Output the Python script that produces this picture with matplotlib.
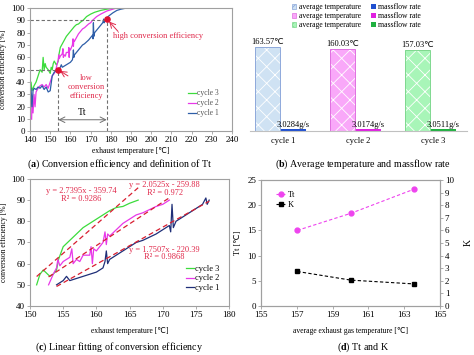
import matplotlib
matplotlib.use('Agg')
import matplotlib.pyplot as plt
import numpy as np
from matplotlib.patches import Patch
from matplotlib.lines import Line2D

plt.rcParams['font.family'] = ['Liberation Serif', 'DejaVu Sans']
plt.rcParams['hatch.linewidth'] = 0.6
plt.rcParams['mathtext.fontset'] = 'custom'
plt.rcParams['mathtext.rm'] = 'Liberation Serif'
plt.rcParams['mathtext.bf'] = 'Liberation Serif:bold'

# ---- conversion efficiency curves ----
x_c1 = [140, 140.5, 141, 141.5, 142, 143, 144, 145, 146, 147, 148, 149, 150, 151, 152, 153,
        154, 155, 155.5, 156, 157, 158, 159, 160, 161, 161.3, 161.5, 161.7, 162, 163, 164, 165,
        166, 167, 168, 169, 170, 171, 171.2, 171.4, 171.6, 172, 173, 174, 175, 176, 176.5,
        176.7, 177, 179, 181, 183, 185, 188, 240]
y_c1 = [5, 35, 20, 33, 35, 34, 36, 35, 37, 34, 36, 32, 33, 45, 48, 49,
        50, 52, 54, 52, 53, 54, 55, 56, 58, 61, 66, 60, 62, 64, 66, 68,
        70, 71, 72.5, 74, 76, 78, 75, 88, 77, 80, 82, 84, 86, 88, 91,
        88, 90, 93.5, 96, 98, 99, 100, 100]

x_c2 = [140.8, 141, 141.5, 142, 142.5, 143, 144, 145, 146, 147, 148, 149, 150, 151, 152,
        152.8, 153.5, 154, 154.2, 154.5, 155, 156, 156.3, 156.5, 157, 157.5, 158, 159, 159.2,
        159.4, 159.6, 160, 161, 161.3, 161.5, 161.7, 162, 163, 164, 165, 166, 167, 168, 169,
        170, 171, 173, 175, 178, 180, 183, 240]
y_c2 = [10, 25, 15, 30, 20, 32, 35, 37, 38, 36, 38, 35, 40, 45, 47,
        50, 55, 58, 62, 59, 61, 63, 67, 60, 62, 61, 64, 64, 68,
        60, 67, 66, 70, 75, 69, 74, 73, 76, 79, 81, 83, 84, 85.5, 87,
        88, 90, 93, 95, 97.5, 98.5, 100, 100]

x_c3 = [140, 140.5, 141, 142, 143, 144, 145, 146, 146.5, 147, 147.5, 148, 149, 150, 150.5,
        151, 151.5, 152, 153, 153.5, 154, 154.3, 155, 156, 157, 158, 159, 160, 161, 162, 163,
        164, 165, 166.3, 168, 170, 172, 175, 178, 181, 185, 240]
y_c3 = [30, 40, 33, 37, 40, 45, 50, 48, 60, 50, 55, 52, 50, 47, 52,
        50, 55, 57, 54, 55, 57, 62, 68, 71, 74, 77, 79, 81, 83, 85, 86.5,
        87, 88.5, 90, 93, 95, 96.5, 98, 99, 99.7, 100, 100]

# fitting range used in (c)
fit_range = {1: (154, 177), 2: (152.8, 171), 3: (151, 166.3)}
fit_k = {1: 1.7507, 2: 2.0525, 3: 2.7395}
fit_b = {1: -220.39, 2: -259.88, 3: -359.74}
fit_r2 = {1: '0.9868', 2: '0.972', 3: '0.9286'}

# ---- (b) bars ----
cycles = ['cycle 1', 'cycle 2', 'cycle 3']
avg_temp = [163.57, 160.03, 157.03]
massflow = [3.0284, 3.0174, 3.0511]

# ---- (d) ----
t_avg = [157.03, 160.03, 163.57]
tt = [15.0, 18.4, 23.2]
k_vals = [2.7395, 2.0525, 1.7507]

red = '#E0284A'
gray_spine = '#A0A0A0'

fig = plt.figure(figsize=(4.74, 3.55), dpi=100)


def style(ax):
    for s in ax.spines.values():
        s.set_color(gray_spine)
        s.set_linewidth(0.8)
    ax.tick_params(labelsize=6.5, length=2, width=0.6, color=gray_spine, pad=1.5)


# (a)
ax1 = fig.add_axes([0.0633, 0.6296, 0.426, 0.348])
ax1.plot(x_c3, y_c3, color='#3CDC3C', lw=0.9, label='cycle 3')
ax1.plot(x_c2, y_c2, color='#E838E8', lw=0.9, label='cycle 2')
ax1.plot(x_c1, y_c1, color='#2E5EA8', lw=0.9, label='cycle 1')
dash = dict(color='#707070', lw=0.8, ls=(0, (3, 2)))
ax1.plot([140, 154], [50, 50], **dash)
ax1.plot([154, 154], [0, 50], **dash)
ax1.plot([140, 178], [90, 90], **dash)
ax1.plot([178, 178], [0, 90], **dash)
ax1.scatter([154, 178], [50, 91], color='#E01030', s=14, zorder=5)
ax1.annotate('', xy=(178, 9.5), xytext=(154, 9.5),
             arrowprops=dict(arrowstyle='<->', color='#707070', lw=0.7, shrinkA=0, shrinkB=0))
ax1.text(166, 11.5, 'Tt', fontsize=7, ha='center', va='bottom')
ax1.annotate('', xy=(179.2, 89), xytext=(183.6, 81),
             arrowprops=dict(arrowstyle='->', color=red, lw=0.7, shrinkA=0, shrinkB=0))
ax1.text(181, 77.6, 'high conversion efficiency', color=red, fontsize=6, va='center')
ax1.annotate('', xy=(154.9, 49), xytext=(158.8, 45),
             arrowprops=dict(arrowstyle='->', color=red, lw=0.7, shrinkA=0, shrinkB=0))
ax1.text(167.8, 36, 'low\nconversion\nefficiency', color=red, fontsize=6,
         ha='center', va='center', linespacing=1.1)
ax1.set_xlim(140, 240)
ax1.set_ylim(0, 100)
ax1.set_xticks(np.arange(140, 241, 10))
ax1.set_yticks(np.arange(0, 101, 10))
ax1.set_xlabel('exhaust temperature [℃]', fontsize=5.5, labelpad=2)
ax1.set_ylabel('conversion efficiency [%]', fontsize=5.5)
ax1.yaxis.set_label_coords(-0.112, 0.5)
style(ax1)
ax1.legend(loc='lower right', bbox_to_anchor=(0.97, 0.06), fontsize=5.5, frameon=False,
           handlelength=1.0, handletextpad=0.2, labelspacing=0.25, labelcolor='#555555')

# (b)
ax2 = fig.add_axes([0.527, 0.631, 0.458, 0.290])
face = ['#CFE2F3', '#F9A8F9', '#A8F5B8']
edge = ['#8EA9DB', '#E070E0', '#7FD88F']
mass_c = ['#2050D0', '#E020E0', '#20B040']
xpos = np.arange(len(cycles))
w = 0.333
for i in range(len(cycles)):
    ax2.bar(xpos[i] - 0.17, avg_temp[i], w, color=face[i], hatch='xx', edgecolor='white', lw=0)
    ax2.bar(xpos[i] - 0.17, avg_temp[i], w, fill=False, edgecolor=edge[i], lw=0.7)
    ax2.bar(xpos[i] + 0.175, massflow[i], w, color=mass_c[i], lw=0)
    ax2.text(xpos[i] - 0.17, avg_temp[i] + 2, '%.2f℃' % avg_temp[i], ha='center', va='bottom', fontsize=6)
    ax2.text(xpos[i] + 0.175, massflow[i] + 1.5, '%.4fg/s' % massflow[i], ha='center', va='bottom', fontsize=6)
ax2.set_xlim(-0.407, 2.487)
ax2.set_ylim(0, 200)
ax2.set_xticks(xpos + 0.04)
ax2.set_xticklabels(cycles, fontsize=6)
ax2.set_yticks([])
for s in ['top', 'left', 'right']:
    ax2.spines[s].set_visible(False)
ax2.spines['bottom'].set_color('#C0C0C0')
ax2.tick_params(axis='x', length=0, pad=4)
handles = [Patch(facecolor=face[i], edgecolor=edge[i], hatch='xx', lw=0.5) for i in range(3)]
handles += [Patch(facecolor=c) for c in mass_c]
labels = ['average temperature'] * 3 + ['massflow rate'] * 3
fig.legend(handles, labels, loc='upper center', bbox_to_anchor=(0.752, 1.01), ncol=2, fontsize=5.5,
           frameon=False, handlelength=0.6, handleheight=0.6, labelspacing=0.1,
           columnspacing=1.4, handletextpad=0.3)

# (c)
ax3 = fig.add_axes([0.0633, 0.138, 0.420, 0.358])
data = {1: (x_c1, y_c1, '#1F2F78'), 2: (x_c2, y_c2, '#E838E8'), 3: (x_c3, y_c3, '#3CDC3C')}
for c in [3, 2, 1]:
    xs, ys, col = data[c]
    xs = np.array(xs)
    ys = np.array(ys)
    lo, hi = fit_range[c]
    m = (xs >= lo) & (xs <= hi)
    ax3.plot(xs[m], ys[m], color=col, lw=0.9, label='cycle %d' % c)
for c in [3, 2, 1]:
    lo, hi = fit_range[c]
    fx = np.array([lo, hi])
    ax3.plot(fx, fit_k[c] * fx + fit_b[c], color='#D81E30', lw=0.9, ls=(0, (4, 2.5)), zorder=4)
txt = dict(color=red, fontsize=6, ha='center', va='center')
ax3.text(157.7, 94.1, 'y = 2.7395x - 359.74', **txt)
ax3.text(157.7, 90.5, 'R² = 0.9286', **txt)
ax3.text(170.3, 97.2, 'y = 2.0525x - 259.88', **txt)
ax3.text(170.3, 93.5, 'R² = 0.972', **txt)
ax3.text(170.3, 66.5, 'y = 1.7507x - 220.39', **txt)
ax3.text(170.3, 63.0, 'R² = 0.9868', **txt)
ax3.set_xlim(150, 180)
ax3.set_ylim(40, 100)
ax3.set_xticks(np.arange(150, 181, 5))
ax3.set_yticks(np.arange(40, 101, 10))
ax3.set_xlabel('exhaust temperature [℃]', fontsize=5.5, labelpad=6)
ax3.set_ylabel('conversion efficiency [%]', fontsize=5.5)
ax3.yaxis.set_label_coords(-0.112, 0.5)
style(ax3)
ax3.legend(loc='lower right', bbox_to_anchor=(0.99, 0.05), fontsize=6, frameon=False,
           handlelength=0.9, handletextpad=0.2, labelspacing=0.2)

# (d)
ax4 = fig.add_axes([0.5506, 0.138, 0.3776, 0.355])
ax4r = ax4.twinx()
ax4.plot(t_avg, tt, color='#EE44EE', ls=(0, (3, 2)), lw=0.8, marker='o', ms=3.5)
ax4r.plot(t_avg, k_vals, color='black', ls=(0, (3, 2)), lw=0.8, marker='s', ms=3.5)
ax4.set_xlim(155, 165)
ax4.set_ylim(0, 25)
ax4r.set_ylim(0, 10)
ax4.set_xticks(np.arange(155, 166, 2))
ax4.set_yticks(np.arange(0, 26, 5))
ax4r.set_yticks(np.arange(0, 11, 1))
ax4.set_xlabel('average exhaust gas temperature [℃]', fontsize=5.5, labelpad=6)
ax4.set_ylabel('Tt [℃]', fontsize=6)
ax4.yaxis.set_label_coords(-0.106, 0.5)
ax4r.set_ylabel('K', fontsize=7)
ax4r.yaxis.set_label_coords(1.135, 0.5)
style(ax4)
style(ax4r)
leg_h = [Line2D([], [], color='#EE44EE', ls=(0, (3, 2)), lw=0.8, marker='o', ms=3.5),
         Line2D([], [], color='black', ls=(0, (3, 2)), lw=0.8, marker='s', ms=3.5)]
ax4.legend(leg_h, ['Tt', 'K'], loc='upper left', bbox_to_anchor=(0.04, 0.97), fontsize=6,
           frameon=False, handlelength=1.2, handletextpad=0.3, labelspacing=0.2)

# captions
cap = dict(fontsize=7.2, ha='center', va='center')
fig.text(0.253, 0.538, r'($\mathbf{a}$) Conversion efficiency and definition of Tt', **cap)
fig.text(0.766, 0.538, r'($\mathbf{b}$) Average temperature and massflow rate', **cap)
fig.text(0.251, 0.0225, r'($\mathbf{c}$) Linear fitting of conversion efficiency', **cap)
fig.text(0.766, 0.0225, r'($\mathbf{d}$) Tt and K', **cap)

fig.savefig('out.png', dpi=100)
